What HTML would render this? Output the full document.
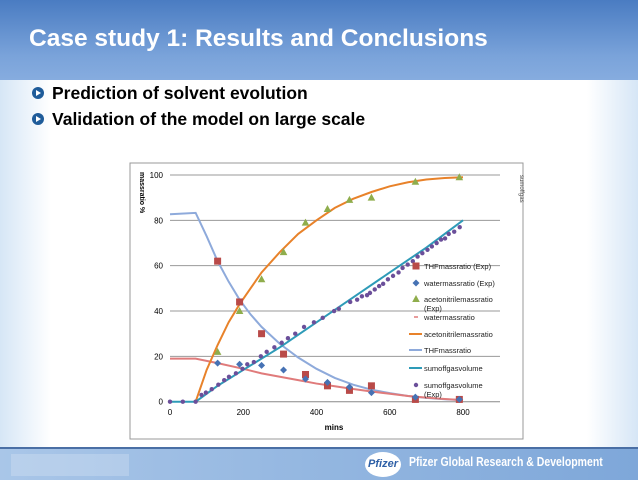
<!DOCTYPE html>
<html><head><meta charset="utf-8"><style>
body{margin:0;width:638px;height:478px;overflow:hidden;font-family:"Liberation Sans",sans-serif;background:linear-gradient(90deg,#d6e6f6 0%,#ffffff 8%,#ffffff 92%,#d6e6f6 100%);position:relative}
.hdr{position:absolute;left:0;top:0;width:638px;height:80px;background:linear-gradient(180deg,#4a7cc2 0%,#7aa3da 70%,#86acdf 100%)}
.title{position:absolute;left:29px;top:25px;color:#fff;font-weight:bold;font-size:24.5px;white-space:nowrap}
.bul{position:absolute;left:32px;width:12px;height:12px;border-radius:50%;background:#1f5c9a}
.bul:after{content:"";position:absolute;left:4px;top:3px;border-left:5px solid #fff;border-top:3px solid transparent;border-bottom:3px solid transparent}
.bt{position:absolute;left:52px;font-weight:bold;font-size:17.5px;color:#000;white-space:nowrap}
.ftr{position:absolute;left:0;top:447px;width:638px;height:31px;background:linear-gradient(90deg,#a9c6e8,#7ea7d9);border-top:2px solid #4a6fa5}
</style></head><body>
<div class="hdr"></div>
<div class="title">Case study 1: Results and Conclusions</div>
<div class="bul" style="top:87px"></div>
<div class="bt" style="top:83px">Prediction of solvent evolution</div>
<div class="bul" style="top:113px"></div>
<div class="bt" style="top:109px">Validation of the model on large scale</div>
<div class="ftr">
<div style="position:absolute;left:11px;top:5px;width:118px;height:22px;background:rgba(255,255,255,0.2)"></div>
<div style="position:absolute;left:365px;top:3px;width:36px;height:25px;border-radius:50%;background:#fff;color:#2d5fa6;font-style:italic;font-weight:bold;font-size:11px;text-align:center;line-height:25px">Pfizer</div>
<div style="position:absolute;left:409px;top:6px;color:#fff;font-weight:bold;font-size:12.5px;white-space:nowrap;transform:scaleX(0.84);transform-origin:0 0">Pfizer Global Research &amp; Development</div>
</div>
<svg id="chart" width="638" height="478" style="position:absolute;left:0;top:0"></svg>
<script>
const thfExpX=[130,190,250,310,370,430,490,550,670,790];
const thfExpY=[62,44,30,21,12,7,5,7,1,1];
const waterExpX=[130,190,250,310,370,430,490,550,670,790];
const waterExpY=[17,16.5,16,14,10,8.5,6.5,4,2,1];
const acnExpX=[130,190,250,310,370,430,490,550,670,790];
const acnExpY=[22,40,54,66,79,85,89,90,97,99];
const gasExpX=[0,35,70,86,98,114,132,148,161,180,198,211,229,248,264,285,305,322,342,366,393,417,448,461,492,511,524,538,546,559,571,582,595,609,624,635,649,663,676,689,703,715,728,740,751,761,776,791];
const gasExpY=[0,0,0,3,4,5.5,7.5,9.5,11,12.5,14.5,16.5,17.5,20,22,24,26,28,30,33,35,37,40,41,44,45,46.5,47,48,49.5,51,52,54,55.5,57,59,60.5,62,64,65.5,67,68.5,70,71.5,72,74,75,77];
const thfX=[0,70,100,130,160,190,220,250,300,350,400,450,500,550,600,650,700,750,800];
const thfY=[82.7,83.3,73,62,53,45,38.5,33,25.5,19.5,14.5,10.5,7.5,5.3,3.8,2.5,1.7,1.1,0.7];
const waterX=[0,70,130,200,250,300,350,400,450,500,550,600,650,700,750,800];
const waterY=[19,19,17,14.5,12.5,11,9.5,8,6.8,5.6,4.5,3.5,2.5,1.8,1.2,0.7];
const acnX=[70,100,130,160,190,220,250,300,350,400,450,500,550,600,650,700,750,800];
const acnY=[0,14,25,35,43,50,57,66,74,80,85.5,89.5,92.5,95,96.8,98,98.7,99];
const gasX=[0,70,130,200,300,400,500,600,700,800];
const gasY=[0,0,7,14,24,35,46,57,68,80];
const xTicks=[0,200,400,600,800];
const yTicks=[0,20,40,60,80,100];
const sx=v=>170+v*293/800, sy=v=>401.7-v*2.267;
const svg=document.getElementById('chart');const NS='http://www.w3.org/2000/svg';
function mk(t,a,p){const e=document.createElementNS(NS,t);for(const k in a)e.setAttribute(k,a[k]);(p||svg).appendChild(e);return e;}
const box=mk('rect',{x:130,y:163,width:393,height:276,fill:'#fff',stroke:'#999','stroke-width':1});

yTicks.forEach(v=>{const l=mk('line',{x1:170,x2:500,y1:sy(v),y2:sy(v),stroke:v==0?'#888':'#999','stroke-width':1});

const t=mk('text',{x:163,y:sy(v)+3,'font-size':8,'text-anchor':'end',fill:'#000'});t.textContent=v;
});
xTicks.forEach(v=>{const t=mk('text',{x:sx(v),y:415,'font-size':8,'text-anchor':'middle',fill:'#000'});t.textContent=v;
});
const xt=mk('text',{x:334,y:430,'font-size':8,'font-weight':'bold','text-anchor':'middle'});xt.textContent='mins';

const yt=mk('text',{x:0,y:0,'font-size':7,'font-weight':'bold',transform:'translate(140,172) rotate(90)'});yt.textContent='massratio %';

const rt=mk('text',{x:0,y:0,'font-size':6,fill:'#444',transform:'translate(520,175) rotate(90)'});rt.textContent='sumoffgas';

function line(xs,ys,c,n){const p=mk('polyline',{points:xs.map((x,i)=>sx(x)+','+sy(ys[i])).join(' '),fill:'none',stroke:c,'stroke-width':2});
}
line(thfX,thfY,'#8eaadb','thf-line');line(waterX,waterY,'#e07b7b','water-line');
line(acnX,acnY,'#e8822a','acetonitrile-line');line(gasX,gasY,'#2e9bb8','offgas-line');
function mark(type,x,y,c,n){let e;
if(type=='sq')e=mk('rect',{x:x-3.5,y:y-3.5,width:7,height:7,fill:c});
else if(type=='di')e=mk('polygon',{points:`${x},${y-3.5} ${x+3.5},${y} ${x},${y+3.5} ${x-3.5},${y}`,fill:c});
else if(type=='tr')e=mk('polygon',{points:`${x},${y-4} ${x+3.8},${y+3} ${x-3.8},${y+3}`,fill:c});
else e=mk('circle',{cx:x,cy:y,r:2.2,fill:c});
}
thfExpX.forEach((x,i)=>mark('sq',sx(x),sy(thfExpY[i]),'#b94a48','thf-exp-point'));
waterExpX.forEach((x,i)=>mark('di',sx(x),sy(waterExpY[i]),'#4672b4','water-exp-point'));
acnExpX.forEach((x,i)=>mark('tr',sx(x),sy(acnExpY[i]),'#8fad4c','acetonitrile-exp-point'));
gasExpX.forEach((x,i)=>mark('ci',sx(x),sy(gasExpY[i]),'#6b4f9a','offgas-exp-point'));
const leg=[['sq','#b94a48','THFmassratio (Exp)',266],['di','#4672b4','watermassratio (Exp)',283],['tr','#8fad4c','acetonitrilemassratio',299,'(Exp)'],['dash','#e07b7b','watermassratio',317],['ln','#e8822a','acetonitrilemassratio',334],['ln','#8eaadb','THFmassratio',350],['ln','#2e9bb8','sumoffgasvolume',368],['ci','#6b4f9a','sumoffgasvolume',385,'(Exp)']];
leg.forEach(l=>{const y=l[3];
if(l[0]=='ln'){const e=mk('line',{x1:409,x2:422,y1:y,y2:y,stroke:l[1],'stroke-width':2});}
else if(l[0]=='dash'){const e=mk('line',{x1:414,x2:418,y1:y,y2:y,stroke:l[1],'stroke-width':1.5});}
else mark(l[0],416,y,l[1],'legend-swatch');
const t=mk('text',{x:424,y:y+3,'font-size':7.5,fill:'#222'});t.textContent=l[2];

if(l[4]){const t2=mk('text',{x:424,y:y+12,'font-size':7.5,fill:'#222'});t2.textContent=l[4];
}});
</script>
</body></html>
